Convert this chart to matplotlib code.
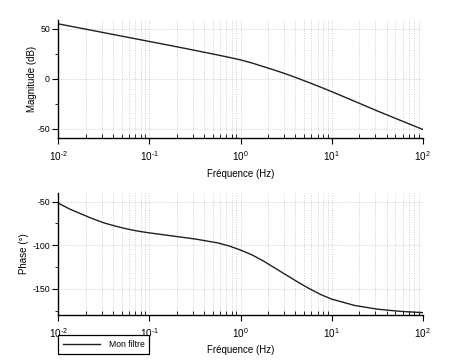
import matplotlib
matplotlib.use('Agg')
import matplotlib.pyplot as plt
from matplotlib.ticker import LogLocator, MultipleLocator, FuncFormatter
import numpy as np

plt.rcParams['font.family'] = ['Liberation Sans', 'DejaVu Sans']
plt.rcParams['mathtext.fontset'] = 'custom'
plt.rcParams['mathtext.rm'] = 'Liberation Sans'
plt.rcParams['mathtext.it'] = 'Liberation Sans'
plt.rcParams['axes.unicode_minus'] = False

freq = [0.01, 0.01334, 0.01778, 0.02371, 0.03162, 0.04217, 0.05623, 0.07499,
        0.1, 0.1778, 0.3162, 0.5623, 0.7499, 1.0, 1.334, 1.778, 2.371, 3.162,
        4.217, 5.623, 7.499, 10.0, 17.78, 31.62, 56.23, 100.0]
magnitude = [55, 52.8, 50.6, 48.4, 46.2, 44, 41.8, 39.6,
             37.4, 33, 28.5, 23.9, 21.5, 19, 15.9, 12.3, 8.7, 4.9,
             0.7, -3.6, -8.1, -12.7, -22.3, -32, -41.3, -50.5]
phase = [-51.7, -58.5, -64, -69.5, -74.3, -78, -81.2, -83.8,
         -85.8, -89.3, -92.8, -97.3, -100.8, -105.5, -111, -118, -126, -134,
         -142, -149.5, -156.3, -161.8, -169, -173.3, -175.8, -177.3]
mag_ticks = [-50, 0, 50]
phase_ticks = [-150, -100, -50]


def puissance(x, pos):
    e = int(round(np.log10(x)))
    exp = r'\text{-}%d' % -e if e < 0 else '%d' % e
    return r'$10^{%s}$' % exp


fig = plt.figure(figsize=(4.74, 3.6), dpi=100)
ax1 = fig.add_axes([0.123, 0.616, 0.769, 0.328])
ax2 = fig.add_axes([0.123, 0.125, 0.769, 0.339])

grid_style = dict(color='#cfcfcf', linestyle=(0, (1, 1.5)), linewidth=0.7)


def style(ax, yticks, ylim, ylabel, ylabelpad):
    ax.set_xscale('log')
    ax.set_xlim(0.01, 100)
    ax.set_ylim(*ylim)
    ax.set_yticks(yticks)
    ax.xaxis.set_major_locator(LogLocator(base=10, numticks=10))
    ax.xaxis.set_minor_locator(LogLocator(base=10, subs=range(2, 10), numticks=20))
    ax.xaxis.set_major_formatter(FuncFormatter(puissance))
    ax.spines['top'].set_visible(False)
    ax.spines['right'].set_visible(False)
    ax.spines['left'].set_linewidth(1.0)
    ax.spines['bottom'].set_linewidth(1.0)
    ax.grid(True, which='major', **grid_style)
    ax.grid(True, which='minor', axis='x', **grid_style)
    ax.tick_params(axis='x', which='major', direction='out', length=4, labelsize=7.2, pad=4)
    ax.tick_params(axis='x', which='minor', direction='in', length=3)
    ax.tick_params(axis='y', which='major', direction='out', length=4, labelsize=6.3, pad=2)
    ax.tick_params(axis='y', which='minor', direction='out', length=2)
    ax.set_xlabel('Fréquence (Hz)', fontsize=7, labelpad=4)
    ax.set_ylabel(ylabel, fontsize=7, labelpad=ylabelpad)


ax1.plot(freq, magnitude, color='#202020', linewidth=1.0, label='Mon filtre')
style(ax1, mag_ticks, (-59.3, 58.7), 'Magnitude (dB)', 0.5)
ax1.yaxis.set_minor_locator(MultipleLocator(25))

ax2.plot(freq, phase, color='#202020', linewidth=1.0, label='Mon filtre')
style(ax2, phase_ticks, (-180, -40), 'Phase (°)', 2.5)
ax2.yaxis.set_minor_locator(MultipleLocator(25))

leg = fig.legend(*ax2.get_legend_handles_labels(), loc='lower left',
                 bbox_to_anchor=(58.3 / 474, 1 - 353.5 / 360), borderaxespad=0,
                 fancybox=False, edgecolor='black', framealpha=1, fontsize=6.2,
                 handlelength=4.3, borderpad=0.55, handletextpad=1.0)
leg.get_frame().set_linewidth(0.9)

fig.savefig('out.png', dpi=100)
